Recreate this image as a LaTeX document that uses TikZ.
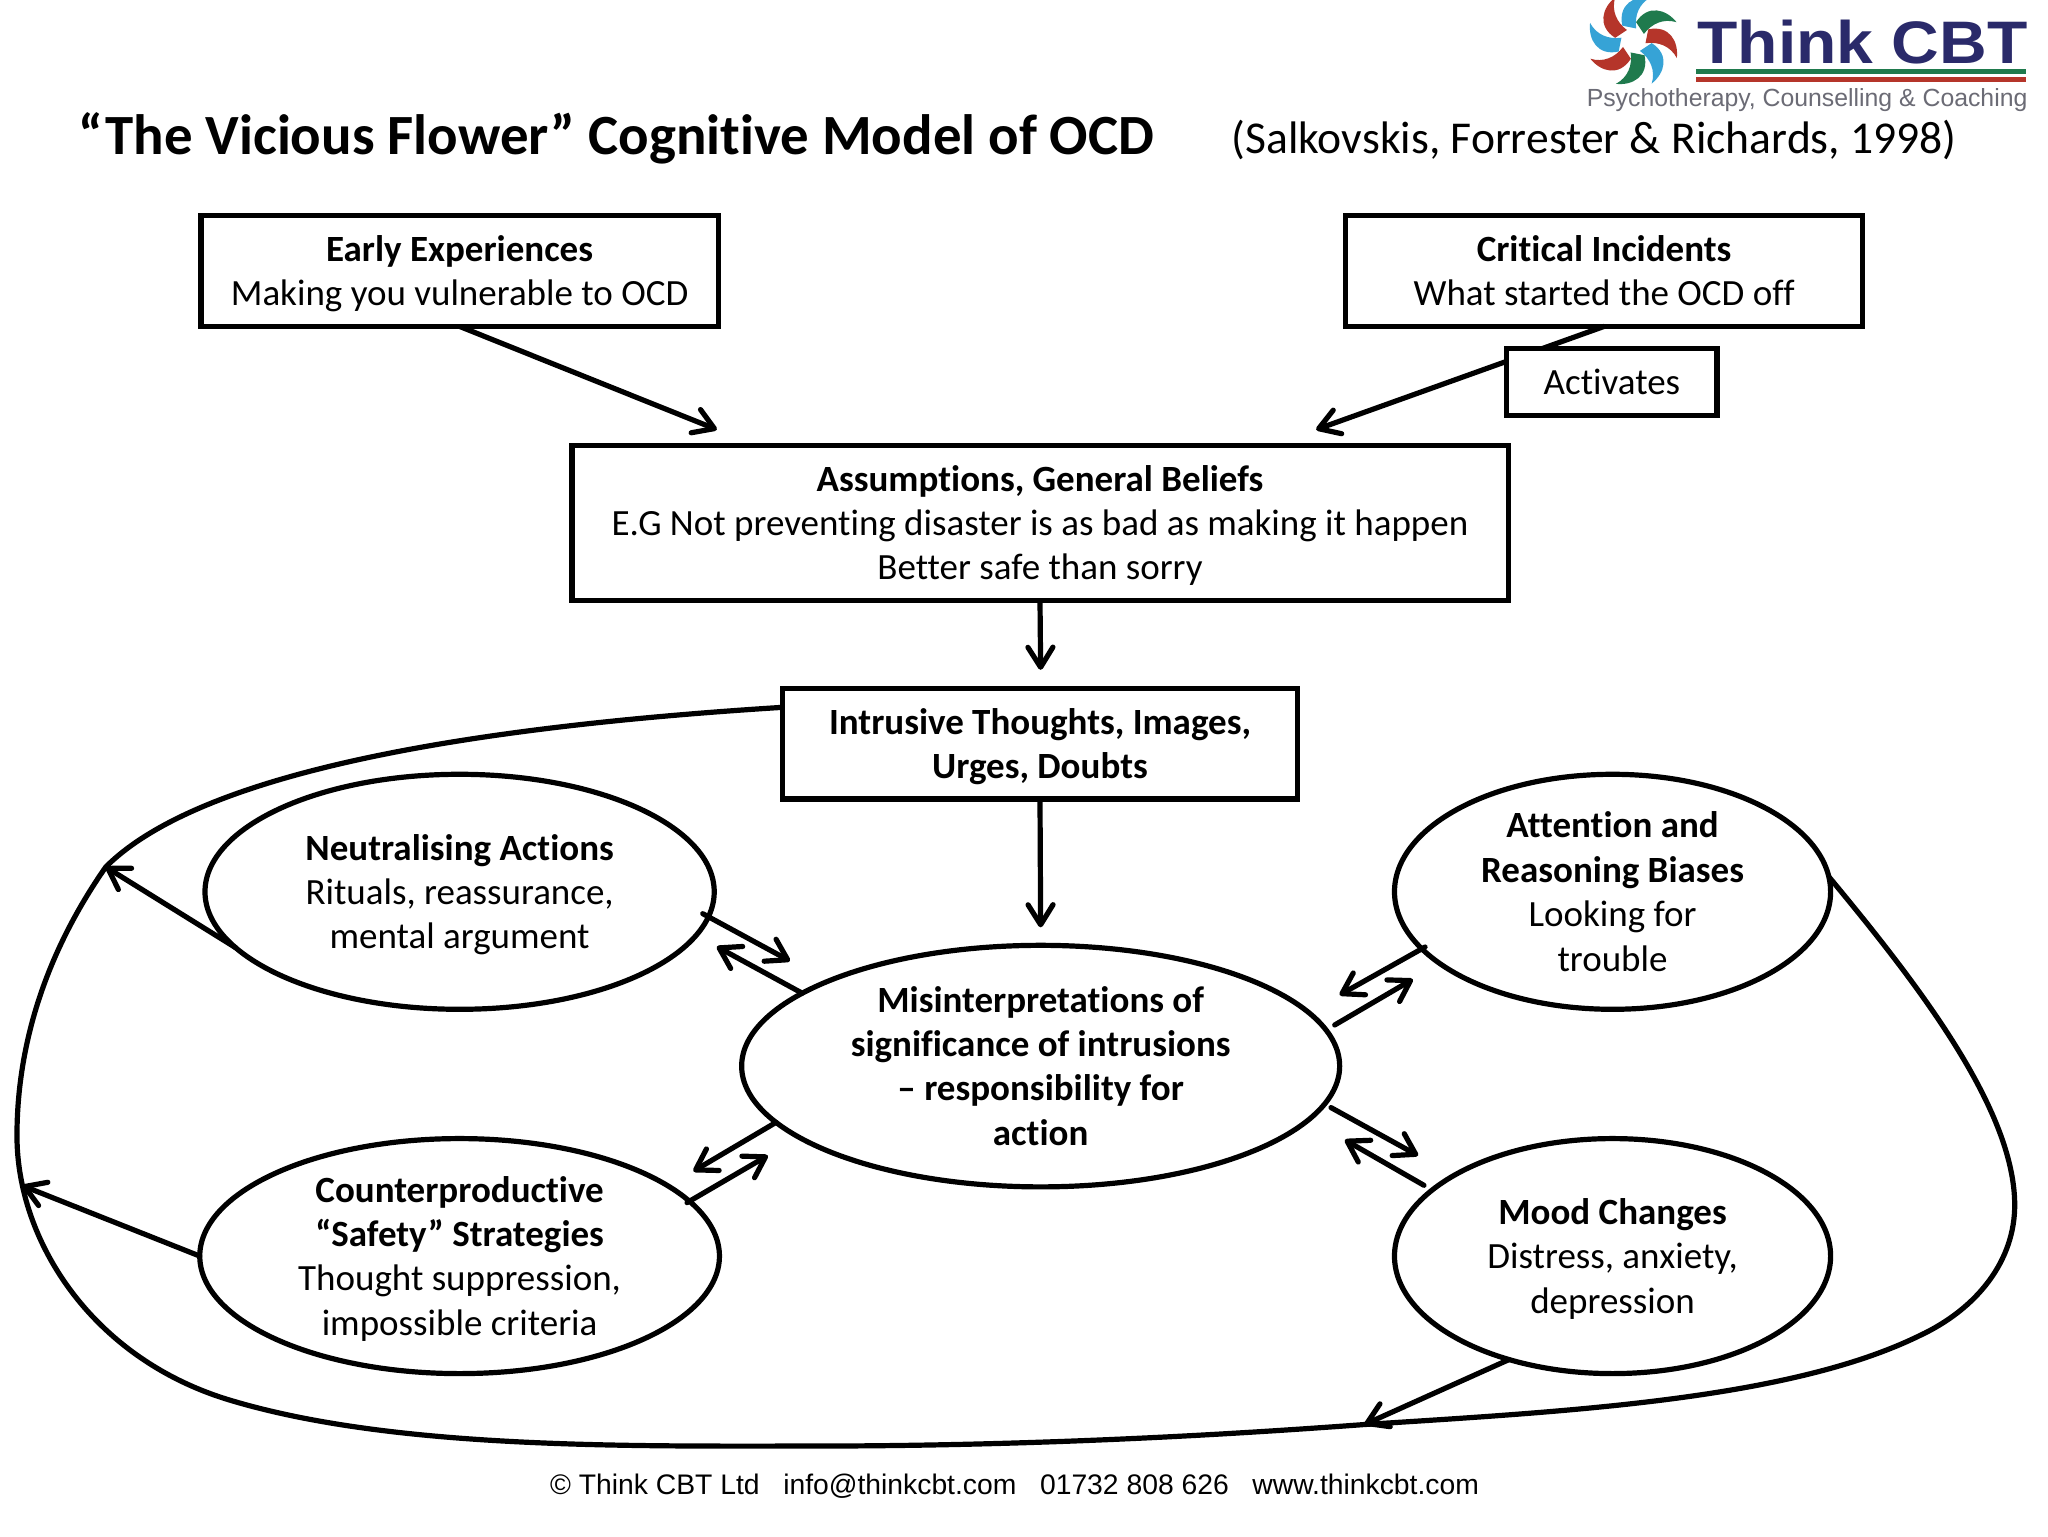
\documentclass[tikz,border=0pt]{standalone}
\usepackage{fontspec}
\setmainfont[Ligatures=NoCommon]{Carlito}
\newfontfamily\arialfont{Liberation Sans}
\usetikzlibrary{arrows.meta,shapes.geometric}
\definecolor{cbtgreen}{HTML}{1F7A4D}
\definecolor{cbtred}{HTML}{B5352A}
\definecolor{cbtblue}{HTML}{36A3D6}
\definecolor{cbtnavy}{HTML}{2A2A6A}
\definecolor{cbtgrey}{HTML}{6B6B75}
\newcommand\lbl[1]{\makebox[0pt]{\raisebox{-12.4pt}{\smash{\begin{tabular}{@{}c@{}}#1\end{tabular}}}}}
\tikzset{
  txt/.style={inner sep=0pt,outer sep=0pt,font=\fontsize{18.5}{22.2}\selectfont},
  bx/.style={txt,draw=black,line width=2.6pt,fill=white,rectangle},
  el/.style={txt,draw=black,line width=2.6pt,fill=white,ellipse},
  arr/.style={line width=2.6pt,-{Straight Barb[length=10pt,width=12.5pt,line width=2.6pt,round]},line cap=round},
  flow/.style={line width=2.6pt}
}
\begin{document}
\begin{tikzpicture}[x=0.6529pt,y=-0.6529pt]
\useasboundingbox (0,0) rectangle (1568.5,1176.4);
\fill[white] (0,0) rectangle (1568.5,1176.4);
% logo
\begin{scope}[shift={(1251,31)}]
\foreach \a/\pc in {0/cbtgreen,45/cbtred,90/cbtblue,135/cbtgreen,180/cbtred,225/cbtblue,270/cbtred,315/cbtblue}{
  \begin{scope}[rotate=-\a]
    \fill[\pc] (2,-14) .. controls (11,-28) and (25,-24) .. (33,-14) .. controls (23,-17) and (14,-13) .. (8,-5) -- cycle;
  \end{scope}
}
\end{scope}
\node[anchor=center,inner sep=0pt,text=cbtnavy,font=\arialfont\bfseries\fontsize{30}{30}\selectfont] (brand) at (1426.5,32) {\scalebox{1.1}[1]{Think CBT}};
\fill[cbtgreen] (1299,53) rectangle (1552,56.5);
\fill[cbtred] (1299,59) rectangle (1552,62.5);
\node[anchor=center,inner sep=0pt,text=cbtgrey,font=\arialfont\fontsize{12.4}{14}\selectfont] (tagline) at (1384,77) {Psychotherapy, Counselling \& Coaching};
% title
\node[anchor=west,inner sep=0pt,font=\bfseries\fontsize{28.43}{34}\selectfont] (title) at (60,106) {“The Vicious Flower” Cognitive Model of OCD};
\node[anchor=west,inner sep=0pt,font=\fontsize{22.8}{28}\selectfont] (cite) at (943,107.5) {(Salkovskis, Forrester \& Richards, 1998)};
% boxes
\node[bx,minimum width=396*0.6529pt,minimum height=85*0.6529pt] (early) at (352,207.5) {\lbl{\textbf{Early Experiences}\\Making you vulnerable to OCD}};
\node[bx,minimum width=396*0.6529pt,minimum height=85*0.6529pt] (critical) at (1228.5,207.5) {\lbl{\textbf{Critical Incidents}\\What started the OCD off}};
\node[bx,minimum width=717*0.6529pt,minimum height=119*0.6529pt] (assume) at (796.5,400.5) {\lbl{\textbf{Assumptions, General Beliefs}\\E.G Not preventing disaster is as bad as making it happen\\Better safe than sorry}};
\node[bx,minimum width=395*0.6529pt,minimum height=85*0.6529pt] (intr) at (796.5,569.5) {\lbl{\textbf{Intrusive Thoughts, Images,}\\\textbf{Urges, Doubts}}};
% free ends
\coordinate (e1) at (549,329);
\coordinate (e2) at (1008,329);
\coordinate (i1) at (797,513);
\coordinate (n1) at (81,664);
\coordinate (n2) at (605,736);
\coordinate (n3) at (549,725);
\coordinate (s1) at (17,908);
\coordinate (s2) at (588,885);
\coordinate (s3) at (531,897);
\coordinate (a2) at (1026,762);
\coordinate (a3) at (1082,750);
\coordinate (m2) at (1086,885);
\coordinate (m3) at (1030,873);
\coordinate (m1) at (1045,1091);
\draw[arr] (early.south) -- (e1);
\draw[arr] (critical.south) -- (e2);
\node[bx,minimum width=161*0.6529pt,minimum height=51*0.6529pt] (act) at (1234.5,292.5) {\lbl{Activates}};
% ellipses
\node[el,minimum width=390*0.6529pt,minimum height=180*0.6529pt] (neutral) at (352,683) {\lbl{\textbf{Neutralising Actions}\\Rituals, reassurance,\\mental argument}};
\node[el,minimum width=458*0.6529pt,minimum height=185*0.6529pt] (mis) at (797,816.5) {\lbl{\textbf{Misinterpretations of}\\\textbf{significance of intrusions}\\\textbf{– responsibility for}\\\textbf{action}}};
\node[el,minimum width=334*0.6529pt,minimum height=180*0.6529pt] (attn) at (1235,683) {\lbl{\textbf{Attention and}\\\textbf{Reasoning Biases}\\Looking for\\trouble}};
\node[el,minimum width=398*0.6529pt,minimum height=180*0.6529pt] (safety) at (352,962) {\lbl{\textbf{Counterproductive}\\\textbf{“Safety” Strategies}\\Thought suppression,\\impossible criteria}};
\node[el,minimum width=334*0.6529pt,minimum height=180*0.6529pt] (mood) at (1235,962) {\lbl{\textbf{Mood Changes}\\Distress, anxiety,\\depression}};
% connectors
\draw[arr] (assume.south) -- (i1);
\draw[arr] (intr.south) -- ([yshift=9pt]mis.north);
\draw[arr] (neutral.194) -- (n1);
\draw[arr] ([xshift=-3.5pt]neutral.355) -- (n2);
\draw[arr] (mis.163) -- (n3);
\draw[arr] ([xshift=-2pt]safety.13.5) -- (s2);
\draw[arr] (mis.192.6) -- (s3);
\draw[arr] (safety.west) -- (s1);
\draw[arr] ([xshift=2.5pt]attn.196.4) -- (a2);
\draw[arr] ([xshift=4pt,yshift=3pt]mis.7.9) -- (a3);
\draw[arr] ([xshift=6pt,yshift=1.3pt]mis.351.8) -- (m2);
\draw[arr] ([xshift=-5.5pt,yshift=1.3pt]mood.159.5) -- (m3);
\draw[arr] (mood.225.7) -- (m1);
\draw[flow] (intr.172) .. controls (340,558) and (150,595) .. (n1)
  .. controls (35,730) and (13,800) .. (13,870)
  .. controls (13,950) and (70,1040) .. (175,1072)
  .. controls (300,1110) and (480,1107.5) .. (620,1107.5)
  .. controls (800,1107.5) and (950,1098) .. (m1)
  .. controls (1200,1081) and (1370,1072) .. (1470,1023)
  .. controls (1515,1002) and (1543,965) .. (1543,923)
  .. controls (1543,850) and (1470,755) .. (attn.4.4);
% footer
\node[anchor=west,inner sep=0pt,font=\arialfont\fontsize{14.15}{17}\selectfont] (foot) at (421,1138) {© Think CBT Ltd\hspace{0.834em}info@thinkcbt.com\hspace{0.834em}01732 808 626\hspace{0.834em}www.thinkcbt.com};
\end{tikzpicture}
\end{document}
